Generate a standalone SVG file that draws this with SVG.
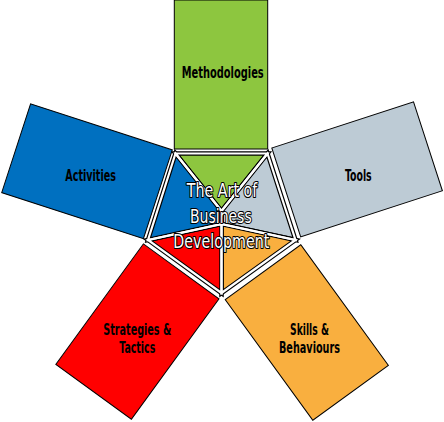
<svg xmlns="http://www.w3.org/2000/svg" width="444" height="422" viewBox="0 0 444 422">
<style>
.box{stroke:#000;stroke-width:1}
.seg{stroke:#000;stroke-width:4.5;stroke-linejoin:miter}
.segw{fill:none;stroke:#fff;stroke-width:2.2;stroke-linejoin:miter}
.lbl{font-family:"DejaVu Sans Condensed","DejaVu Sans",sans-serif;font-weight:bold;font-size:15.5px;fill:#000}
.ctr{font-family:"DejaVu Sans Condensed","DejaVu Sans",sans-serif;font-size:19.5px;fill:#fff;stroke:#000;stroke-width:2.2;paint-order:stroke;stroke-linejoin:round}
.g{fill:#8DC63F}.b{fill:#0070C0}.s{fill:#BDCBD5}.r{fill:#FF0000}.o{fill:#F9AF3F}
</style>
<rect width="444" height="422" fill="#fff"/>
<g id="methodologies">
<rect class="box g" x="174.3" y="0" width="93.4" height="149"/>
<text class="lbl" x="181.7" y="77.5" textLength="82" lengthAdjust="spacingAndGlyphs">Methodologies</text>
</g>
<g id="tools">
<rect class="box s" x="-46.7" y="-74.5" width="93.4" height="149" transform="translate(357.1 169.4) rotate(72)"/>
<text class="lbl" x="345" y="180.5" textLength="26.7" lengthAdjust="spacingAndGlyphs">Tools</text>
</g>
<g id="skills">
<rect class="box o" x="-46.7" y="-74.5" width="93.4" height="149" transform="translate(306.8 332.5) rotate(144)"/>
<text class="lbl" x="290" y="334.5" textLength="39" lengthAdjust="spacingAndGlyphs">Skills &amp;</text>
<text class="lbl" x="279" y="352.5" textLength="61" lengthAdjust="spacingAndGlyphs">Behaviours</text>
</g>
<g id="strategies">
<rect class="box r" x="-46.7" y="-74.5" width="93.4" height="149" transform="translate(137.4 331.6) rotate(-144)"/>
<text class="lbl" x="103.3" y="334.5" textLength="68" lengthAdjust="spacingAndGlyphs">Strategies &amp;</text>
<text class="lbl" x="119.3" y="352.5" textLength="36" lengthAdjust="spacingAndGlyphs">Tactics</text>
</g>
<g id="activities">
<rect class="box b" x="-46.7" y="-74.5" width="93.4" height="149" transform="translate(87 171.3) rotate(-72)"/>
<text class="lbl" x="65.3" y="180.5" textLength="50.7" lengthAdjust="spacingAndGlyphs">Activities</text>
</g>
<g id="center">
<polygon class="seg g" points="175.5,153.5 267.5,153.5 221.5,211"/>
<polygon class="seg s" points="267.5,153.5 295.5,240 221.5,224 221.5,211"/>
<polygon class="seg o" points="295.5,240 221.5,293 221.5,224"/>
<polygon class="seg r" points="148,240 221.5,224 221.5,293"/>
<polygon class="seg b" points="175.5,153.5 221.5,211 221.5,224 148,240"/>
<polygon class="segw" points="175.5,153.5 267.5,153.5 221.5,211"/>
<polygon class="segw" points="267.5,153.5 295.5,240 221.5,224 221.5,211"/>
<polygon class="segw" points="295.5,240 221.5,293 221.5,224"/>
<polygon class="segw" points="148,240 221.5,224 221.5,293"/>
<polygon class="segw" points="175.5,153.5 221.5,211 221.5,224 148,240"/>
<text class="ctr" x="186.7" y="197" textLength="70.6" lengthAdjust="spacingAndGlyphs">The Art of</text>
<text class="ctr" x="190" y="222.7" textLength="61.7" lengthAdjust="spacingAndGlyphs">Business</text>
<text class="ctr" x="173.3" y="248.3" textLength="96" lengthAdjust="spacingAndGlyphs">Development</text>
</g>
</svg>
